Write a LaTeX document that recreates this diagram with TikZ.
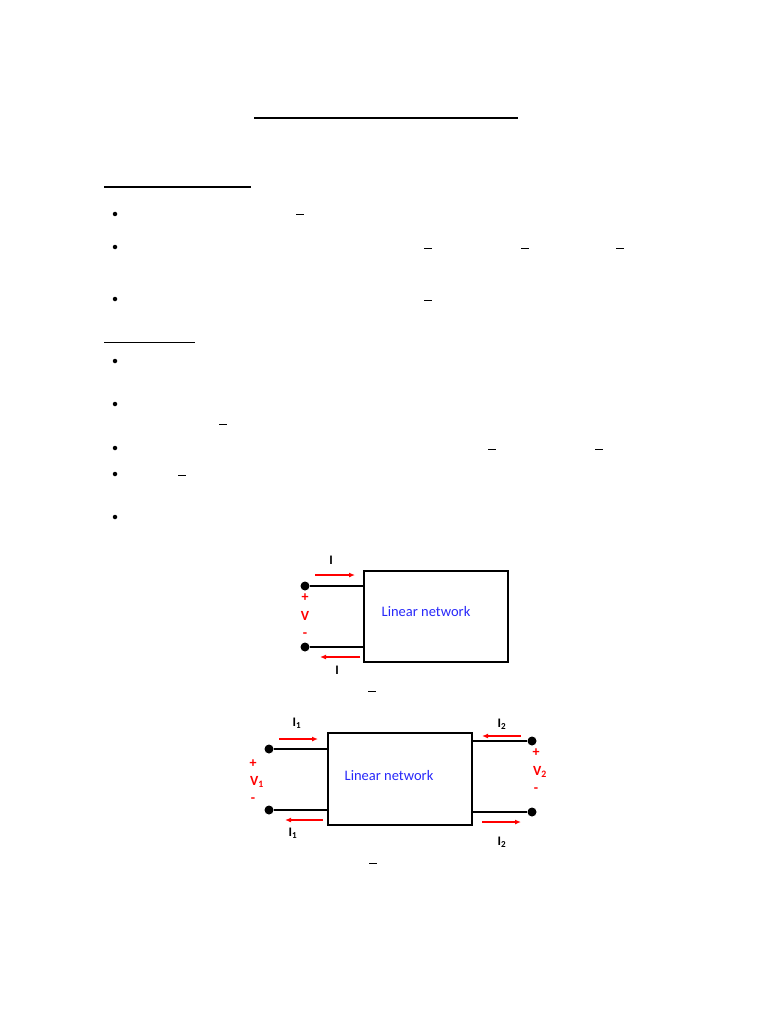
\documentclass[tikz,border=0pt]{standalone}
\usepackage{fontspec}
\setmainfont{Carlito}
\usetikzlibrary{arrows.meta}
\definecolor{netblue}{RGB}{40,40,250}
\begin{document}
\begin{tikzpicture}[x=1pt,y=-1pt,
  wire/.style={line width=1.3pt},
  cur/.style={red,line width=1.3pt,-{Latex[length=6pt,width=5pt]}},
  lab/.style={red,font=\fontsize{14}{14}\selectfont\bfseries,inner sep=0pt},
  ilab/.style={black,font=\fontsize{13}{13}\selectfont\bfseries,inner sep=0pt},
  term/.style={circle,fill=black,inner sep=0pt,minimum size=9pt},
  bul/.style={circle,fill=black,inner sep=0pt,minimum size=4.5pt},
  dsh/.style={line width=1pt},
  net/.style={netblue,font=\fontsize{14.5}{14.5}\selectfont,inner sep=0pt}]
\useasboundingbox[fill=white] (0,0) rectangle (768,1024);
% rules
\draw[line width=1.8pt] (254,118) -- (518,118);
\draw[line width=1.5pt] (104,187) -- (251,187);
\draw[line width=1pt] (104,342) -- (195,342);
% bullets
\foreach \y [count=\i] in {214,247,299,361,404,448,474,517}
  \node[bul] (b\i) at (115,\y) {};
% dashes
\foreach \x/\y in {300/215,428/248,525/248,620/248,428/300,223/424,492/449,599/449,182/475,372/691,373/863}
  \draw[dsh] (\x-4,\y) -- (\x+4,\y);
% diagram 1
\node[draw,line width=1.3pt,minimum width=144pt,minimum height=91pt,inner sep=0pt] (n1) at (436,616.5) {};
\node[net] at (426,612) {Linear network};
\node[term] (t1) at (305,586) {};
\node[term] (t2) at (305,647) {};
\coordinate (w1) at (364,586);
\coordinate (w2) at (364,647);
\draw[wire] (t1) -- (w1);
\draw[wire] (t2) -- (w2);
\coordinate (a1s) at (315,575); \coordinate (a1e) at (355,575);
\draw[cur] (a1s) -- (a1e);
\coordinate (a2s) at (360,657); \coordinate (a2e) at (320,657);
\draw[cur] (a2s) -- (a2e);
\node[ilab] at (331,560) {I};
\node[ilab] at (337,670) {I};
\node[lab] at (305,598) {+};
\node[lab] at (305,616) {V};
\node[lab] at (305,635) {-};
% diagram 2
\node[draw,line width=1.3pt,minimum width=144pt,minimum height=92pt,inner sep=0pt] (n2) at (400,779) {};
\node[net] at (389,776) {Linear network};
\node[term] (l1) at (269,749) {};
\node[term] (l2) at (269,810) {};
\node[term] (r1) at (532,741) {};
\node[term] (r2) at (532,812) {};
\coordinate (lw1) at (328,749); \coordinate (lw2) at (328,810);
\coordinate (rw1) at (472,741); \coordinate (rw2) at (472,812);
\draw[wire] (l1) -- (lw1);
\draw[wire] (l2) -- (lw2);
\draw[wire] (r1) -- (rw1);
\draw[wire] (r2) -- (rw2);
\coordinate (c1s) at (279,739); \coordinate (c1e) at (318,739);
\coordinate (c2s) at (323,820); \coordinate (c2e) at (285,820);
\coordinate (c3s) at (521,736); \coordinate (c3e) at (482,736);
\coordinate (c4s) at (482,822); \coordinate (c4e) at (521,822);
\draw[cur] (c1s) -- (c1e);
\draw[cur] (c2s) -- (c2e);
\draw[cur] (c3s) -- (c3e);
\draw[cur] (c4s) -- (c4e);
\node[ilab] at (297,723) {I$_{\mathbf 1}$};
\node[ilab] at (293,833) {I$_{\mathbf 1}$};
\node[ilab] at (502,724) {I$_{\mathbf 2}$};
\node[ilab] at (502,842) {I$_{\mathbf 2}$};
\node[lab] at (253,764) {+};
\node[lab] at (257,782) {V$_{\mathbf 1}$};
\node[lab] at (253,800) {-};
\node[lab] at (536,753) {+};
\node[lab] at (540,772) {V$_{\mathbf 2}$};
\node[lab] at (536,790) {-};
\end{tikzpicture}
\end{document}
